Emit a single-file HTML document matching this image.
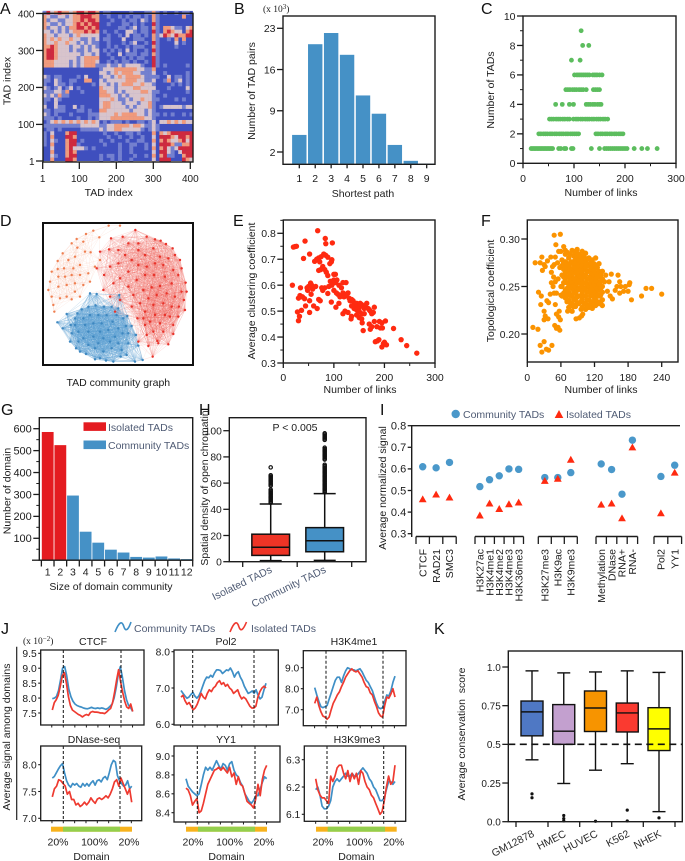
<!DOCTYPE html>
<html lang="en">
<head>
<meta charset="utf-8">
<title>TAD community figure</title>
<style>
html,body{margin:0;padding:0;background:#fff;width:685px;height:861px;overflow:hidden}
svg{display:block}
text{font-family:"Liberation Sans",sans-serif;font-size:10.5px;fill:#1c1c1c}
.letter{font-size:16px;fill:#111}
.slate{fill:#4f5b74}
.serif{font-family:"Liberation Serif",serif;font-size:9.5px}
</style>
</head>
<body>
<svg id="figure" xmlns="http://www.w3.org/2000/svg" width="685" height="861" viewBox="0 0 685 861">
<g id="panel-a"></g>
<g id="panel-b"></g>
<g id="panel-c"></g>
<g id="panel-d"></g>
<g id="panel-e"></g>
<g id="panel-f"></g>
<g id="panel-g"></g>
<g id="panel-h"></g>
<g id="panel-i"></g>
<g id="panel-j"></g>
<g id="panel-k"></g>

<text class="letter" x="0" y="14">A</text>
<text class="letter" x="234" y="14">B</text>
<text class="letter" x="481" y="14">C</text>
<text class="letter" x="0" y="226">D</text>
<text class="letter" x="233" y="226">E</text>
<text class="letter" x="481" y="226">F</text>
<text class="letter" x="1" y="415">G</text>
<text class="letter" x="199" y="415">H</text>
<text class="letter" x="380" y="415">I</text>
<text class="letter" x="1" y="634">J</text>
<text class="letter" x="434" y="634">K</text>

<text x="108.7" y="196" text-anchor="middle">TAD index</text>
<text transform="translate(10.5,81) rotate(-90)" text-anchor="middle">TAD index</text>

<text x="363" y="197" text-anchor="middle">Shortest path</text>
<text transform="translate(255,91) rotate(-90)" text-anchor="middle">Number of TAD pairs</text>
<text class="serif" x="263" y="12">(x 10<tspan dy="-3" font-size="7">3</tspan><tspan dy="3">)</tspan></text>

<text x="601" y="196" text-anchor="middle">Number of links</text>
<text transform="translate(494,90) rotate(-90)" text-anchor="middle">Number of TADs</text>

<text x="118.3" y="386" text-anchor="middle">TAD community graph</text>

<text x="360" y="393" text-anchor="middle">Number of links</text>
<text transform="translate(255,291) rotate(-90)" text-anchor="middle">Average clustering coefficient</text>

<text x="601" y="393" text-anchor="middle">Number of links</text>
<text transform="translate(494,291) rotate(-90)" text-anchor="middle">Topological coefficient</text>

<text x="111" y="590" text-anchor="middle">Size of domain community</text>
<text transform="translate(10.5,491) rotate(-90)" text-anchor="middle">Number of domain</text>
<text class="slate" x="108" y="431">Isolated TADs</text>
<text class="slate" x="108" y="449">Community TADs</text>

<text x="295" y="431" text-anchor="middle">P &lt; 0.005</text>
<text transform="translate(208,488) rotate(-90)" text-anchor="middle">Spatial density of open chromatin</text>

<text class="slate" x="463" y="418">Community TADs</text>
<text class="slate" x="566" y="418">Isolated TADs</text>
<text transform="translate(386,488) rotate(-90)" text-anchor="middle">Average normalized signal</text>

<path d="M115 632 C119 622,122 620,124 627 C126 633,129 628,131 622" fill="none" stroke="#3f8fc6" stroke-width="1.6"/>
<text class="slate" x="134" y="632">Community TADs</text>
<path d="M230 632 C234 622,237 620,239 627 C241 633,244 628,246.5 622" fill="none" stroke="#ee3a30" stroke-width="1.6"/>
<text class="slate" x="251" y="632">Isolated TADs</text>
<text class="serif" x="23" y="644">(x 10<tspan dy="-3" font-size="7">−2</tspan><tspan dy="3">)</tspan></text>
<line x1="16.7" y1="646.7" x2="16.7" y2="820" stroke="#222" stroke-width="1.2"/>
<text transform="translate(10,737) rotate(-90)" text-anchor="middle">Average signal among domains</text>

<text transform="translate(465,734) rotate(-90)" text-anchor="middle" xml:space="preserve">Average conservation  score</text>
</svg>

<script>
/* ===== Panel A data: 40x40 coarse heatmap levels, top row = index 400 ===== */
const heatRows = [
"142343323443443 01100000100011 310 10010110",
"321122123344433 00100101011010 310 00000300",
"312211223343443 00010010110210 310 00000000",
"321121223434344 00100011010100 410 00000000",
"312212133443434 00000110120110 310 33211023",
"221212123334343 01001002210110 410 34322034",
"322122212322222 00100102011010 312 43243344",
"323232232211212 01100020011100 310 01030300",
"322322322121211 00100010120010 410 00020100",
"334322212212121 00101001011100 310 00010000",
"344322212112122 01010102010010 410 00000000",
"344322222212212 00100201110110 310 00000000",
"344322222123333 00010010101100 410 00000000",
"333222212123332 00101011010010 410 00000000",
"333222212123331 11211212222100 410 10000010",
"000000000000000 12223333332211 300 00000000",
"000000000000000 22123233322111 200 10000010",
"210110000102000 12212323333211 110 02011010",
"110210011003300 21222223332211 200 13012010",
"100211010000010 22121233322322 100 00101010",
"210120120100000 32221222233222 200 01000020",
"111221300010000 33221212222332 110 00000010",
"212131100000000 33322121222222 100 10000000",
"110210000000000 22232112122322 110 00010100",
"100200000000000 23322212221223 100 00000000",
"200211002010000 23322221212223 101 22222122",
"110111000110100 33222222122212 100 00000000",
"210100010000111 22223233332212 110 10100101",
"111010000100101 22233333333322 100 00000000",
"012323232323232 01011101001101 202 23232322",
"111111111122222 11223333233211 210 00000000",
"011010000011111 21223322222101 210 00000000",
"102000344000000 01001001101000 303 23444444",
"103000443000000 00100100100100 204 44324434",
"102100344010000 10010001001100 303 43223424",
"103000344100000 01000100110010 204 44311334",
"002000342221010 00000100100010 303 42124444",
"003000343000000 00000100100000 204 42102444",
"002100344000000 10110100010010 303 41100344",
"003000443000000 10010100100000 204 44000432"
];
const heatLevelColors = ["#3f4fbe","#7480cf","#d8c4cc","#f09a7c","#cf2a3e"];
const aTickLabels = ["1","100","200","300","400"];

/* ===== Panel B data ===== */
const pathCategories = ["1","2","3","4","5","6","7","8","9"];
const pairCounts = [4.9,20.3,22.2,18.5,11.6,8.5,3.2,0.5,0.05];
const bYTickLabels = ["2","9","16","23"];

/* ===== Panel C data: links per TAD count (count = position + 1) ===== */
const linksAtCount = [
 [16,19,22,25,28,31,34,37,40,43,46,49,52,55,58,70,74,81,84,95,98,134,150,160,164,168,172,176,180,184,188,192,196,200,204,218,233,244,263],
 [31,35,40,44,48,53,57,62,66,71,75,79,84,88,93,97,101,105,109,143,147,152,156,161,165,170,174,179,183,188,192,196],
 [52,56,60,65,69,73,78,82,87,91,99,104,108,113,117,122,126,130,135,139,144,148,152,157,161,166],
 [64,77,91,99,124,128,132,137,141,146,150,153],
 [84,88,92,97,101,105,110,114,118,124,138,142,146,150],
 [101,106,110,114,118,122,126,130,137,141,145,150,155],
 [95,112],
 [117,129],
 [114]
];
const cXTickLabels = ["0","100","200","300"];
const cYTickLabels = ["0","2","4","6","8","10"];

/* ===== Panel D data: node layout coordinates per community ===== */
const redNodes = [[333,115],[368,110],[406,90],[385,130],[415,130],[440,110],[465,118],[482,122],[498,132],[518,145],[525,165],[540,180],[545,205],[535,225],[557,248],[560,275],[545,275],[552,300],[537,320],[555,330],[535,350],[520,375],[520,402],[505,433],[472,423],[445,438],[415,425],[435,375],[412,355],[395,320],[360,300],[330,290],[310,270],[312,225],[330,200],[327,148],[355,150],[375,165],[355,190],[395,180],[415,150],[435,165],[460,145],[480,170],[505,175],[490,195],[520,210],[465,190],[440,200],[415,195],[385,215],[360,235],[340,250],[385,260],[410,240],[435,225],[462,225],[495,230],[515,250],[480,258],[455,262],[430,270],[400,285],[420,310],[445,295],[470,285],[500,280],[525,290],[515,320],[490,310],[460,315],[435,335],[465,345],[495,345],[510,350],[480,370],[450,365],[430,355],[460,395],[490,395],[440,405],[475,430],[458,470],[300,155],[290,205],[345,335]];
const blueNodes = [[200,342],[172,367],[188,385],[212,375],[225,355],[245,328],[265,320],[287,316],[312,320],[335,320],[355,325],[350,345],[370,355],[382,348],[378,378],[395,378],[385,400],[368,400],[408,405],[415,437],[385,430],[365,450],[380,465],[362,470],[340,485],[318,482],[300,475],[285,478],[258,462],[240,455],[228,445],[210,425],[235,425],[215,400],[235,395],[225,375],[250,355],[270,345],[295,345],[320,345],[338,365],[355,385],[345,410],[355,430],[335,445],[310,455],[285,445],[265,435],[250,415],[265,395],[255,375],[280,370],[305,370],[325,390],[300,395],[280,410],[310,415],[330,425],[295,430],[405,485],[428,480],[232,340],[358,285],[290,282],[270,280]];
const orangeNodes = [[326,77],[360,77],[280,92],[258,102],[230,117],[298,112],[250,125],[215,130],[272,157],[255,155],[232,143],[188,160],[205,180],[225,170],[173,183],[240,195],[220,205],[192,205],[173,207],[155,215],[150,245],[145,270],[175,230],[195,230],[215,225],[240,225],[265,220],[270,245],[250,255],[225,250],[200,255],[175,260],[155,290],[180,295],[200,290],[215,298],[225,275],[160,315],[163,335],[240,290],[285,200],[300,180]];

/* ===== Panel E data ===== */
const ePoints = [[68,.81],[83,.78],[84,.76],[97,.763],[43,.77],[20,.747],[23,.749],[26,.75],[40,.703],[52,.72],[62,.692],[66,.7],[70,.705],[72,.69],[75,.71],[80,.72],[84,.715],[88,.708],[92,.683],[95,.69],[96,.698],[70,.657],[74,.66],[78,.672],[82,.66],[85,.65],[88,.637],[100,.642],[103,.642],[93,.615],[97,.605],[100,.62],[103,.61],[106,.62],[18,.6],[34,.59],[47,.59],[50,.595],[54,.608],[56,.6],[58,.585],[64,.595],[48,.58],[76,.59],[78,.58],[82,.59],[90,.595],[96,.6],[100,.58],[105,.57],[110,.6],[115,.59],[118,.61],[124,.61],[33,.56],[30,.55],[35,.555],[38,.555],[42,.548],[52,.54],[55,.565],[70,.545],[73,.54],[88,.568],[95,.535],[104,.515],[110,.53],[118,.49],[122,.5],[128,.495],[134,.47],[60,.52],[44,.52],[36,.503],[28,.497],[32,.48],[30,.463],[52,.495],[67,.51],[108,.565],[112,.555],[115,.56],[118,.57],[120,.555],[122,.56],[125,.565],[128,.57],[130,.55],[132,.54],[135,.545],[138,.54],[140,.53],[142,.525],[145,.53],[148,.52],[150,.515],[152,.53],[155,.525],[158,.52],[160,.51],[162,.52],[165,.53],[168,.51],[170,.505],[172,.5],[175,.49],[178,.495],[180,.515],[135,.52],[140,.51],[145,.505],[150,.5],[155,.49],[160,.49],[135,.48],[145,.485],[150,.475],[155,.47],[156,.455],[158,.425],[172,.43],[170,.45],[175,.44],[180,.46],[185,.44],[190,.46],[195,.455],[192,.435],[196,.435],[202,.462],[218,.433],[182,.382],[186,.385],[189,.39],[195,.362],[198,.375],[200,.38],[204,.37],[233,.39],[244,.367],[264,.338]];
const eXTickLabels = ["0","100","200","300"];
const eYTickLabels = ["0.3","0.4","0.5","0.6","0.7","0.8"];

/* ===== Panel F data ===== */
const fOuterPoints = [[48,.304],[59,.305],[51,.294],[65,.292],[68,.288],[56,.287],[60,.287],[14,.275],[26,.281],[23,.275],[30,.273],[36,.277],[42,.281],[50,.281],[27,.267],[32,.271],[48,.273],[45,.271],[54,.275],[58,.27],[43,.265],[47,.26],[50,.255],[46,.25],[43,.254],[55,.258],[60,.25],[20,.244],[25,.24],[24,.231],[35,.235],[38,.233],[41,.242],[48,.243],[52,.243],[60,.241],[30,.224],[32,.219],[30,.215],[37,.216],[50,.231],[52,.221],[57,.224],[56,.218],[59,.215],[49,.209],[52,.206],[55,.207],[58,.204],[10,.207],[19,.205],[30,.192],[23,.188],[38,.183],[34,.184],[44,.188],[26,.181],[150,.263],[162,.262],[165,.255],[160,.25],[157,.246],[148,.24],[152,.237],[165,.243],[167,.25],[180,.245],[182,.252],[183,.254],[186,.236],[204,.24],[212,.248],[222,.248],[240,.242],[172,.245],[175,.25],[140,.262],[138,.255],[143,.245],[146,.255],[72,.224],[76,.229],[85,.229],[87,.216],[93,.217],[97,.219],[99,.221],[96,.226]];
const fBlobColumns = [
 [62,.278,.272,.262,.25,.24],
 [65,.275,.268,.26,.254,.243],
 [68,.284,.276,.27,.264,.258,.246,.238],
 [71,.286,.274,.267,.26,.254,.248,.241,.234],
 [74,.28,.272,.266,.26,.252,.244,.236,.228],
 [77,.284,.275,.269,.263,.256,.249,.241,.233],
 [80,.288,.276,.268,.26,.254,.248,.24,.232,.224],
 [83,.282,.273,.265,.258,.251,.245,.237,.229],
 [86,.286,.278,.27,.264,.256,.25,.243,.236,.229],
 [89,.289,.281,.274,.267,.26,.253,.246,.239,.232],
 [92,.284,.278,.27,.262,.256,.248,.24,.232],
 [95,.282,.274,.267,.26,.253,.247,.24,.234],
 [98,.287,.279,.272,.264,.258,.25,.244,.236,.228],
 [101,.282,.275,.268,.26,.254,.247,.24,.232],
 [104,.285,.276,.27,.262,.254,.248,.24,.232,.226],
 [107,.279,.273,.266,.258,.251,.244,.236,.229],
 [110,.28,.272,.266,.258,.25,.244,.236,.228],
 [113,.275,.268,.261,.254,.247,.24,.232],
 [116,.278,.27,.264,.256,.25,.242,.234,.227],
 [119,.274,.267,.26,.253,.246,.239,.231],
 [122,.28,.272,.264,.258,.25,.244,.236,.23],
 [125,.27,.263,.255,.248,.241,.234],
 [128,.274,.266,.26,.252,.246,.24,.232],
 [131,.262,.255,.248,.241,.234],
 [134,.266,.258,.25,.244,.236,.23]
];
const fXTickLabels = ["0","60","120","180","240"];
const fYTickLabels = ["0.20","0.25","0.30"];

/* ===== Panel G data ===== */
const sizeCategories = ["1","2","3","4","5","6","7","8","9","10","11","12"];
const domainCounts = [585,525,295,130,80,48,35,15,12,17,8,5];
const isolatedBarCount = 2;
const gYTickLabels = ["100","200","300","400","500","600"];

/* ===== Panel H data ===== */
const hCategories = ["Isolated TADs","Community TADs"];
const hLow = [0.8,1];
const hQ1 = [4.8,7.6];
const hMedian = [11,16];
const hQ3 = [21,26];
const hHigh = [44,52];
const hOutliers = [
 [45,46,47,48,49,50,51,52,53,54,55,58,59,60,61,62,63,64,65,66,72],
 [53,54,55,56,57,58,59,60,61,62,63,64,65,66,67,68,69,70,71,72,73,74,78,79,80,81,82,83,84,85,86,87,93,94,95,96,97,98]
];
const hYTickLabels = ["0","20","40","60","80","100"];

/* ===== Panel I data ===== */
const iCategories = [["CTCF","RAD21","SMC3"],["H3K27ac","H3K4me1","H3K4me2","H3K4me3","H3K36me3"],["H3K27me3","H3K9ac","H3K9me3"],["Methylation","DNase","RNA+","RNA-"],["Pol2","YY1"]];
const iCommunity = [[.61,.605,.63],[.518,.55,.568,.6,.598],[.56,.56,.583],[.623,.597,.483,.733],[.565,.617]];
const iIsolated = [[.46,.482,.468],[.385,.44,.415,.437,.445],[.545,.555,.643],[.435,.44,.372,.7],[.395,.583]];
const iYTickLabels = ["0.3","0.4","0.5","0.6","0.7","0.8"];

/* ===== Panel J data ===== */
const ctcfCommunity = [7.98,8.0,8.05,8.25,8.6,9.0,9.05,8.75,8.3,8.05,7.9,7.8,7.75,7.72,7.7,7.67,7.65,7.64,7.66,7.69,7.66,7.65,7.67,7.65,7.67,7.65,7.62,7.66,7.72,7.8,8.0,8.35,8.8,9.05,8.7,8.25,7.95,7.75,7.68,7.55];
const ctcfIsolated = [7.6,7.85,7.95,8.1,8.4,8.75,8.85,8.5,8.05,7.75,7.6,7.55,7.5,7.45,7.42,7.37,7.42,7.45,7.42,7.52,7.55,7.53,7.53,7.52,7.5,7.5,7.48,7.53,7.6,7.65,7.85,8.2,8.6,8.95,8.55,8.2,7.9,7.7,7.65,7.8,7.55];
const pol2Community = [6.93,6.85,6.78,6.72,6.75,6.82,6.88,6.78,6.72,6.78,6.9,7.05,7.2,7.3,7.28,7.35,7.3,7.42,7.5,7.5,7.48,7.4,7.45,7.5,7.48,7.55,7.45,7.3,7.4,7.45,7.3,7.2,7.05,6.95,6.85,6.88,6.92,6.85,6.95,6.8,6.7,6.75,6.95,7.13];
const pol2Isolated = [6.75,6.8,6.65,6.55,6.6,6.5,6.4,6.45,6.55,6.7,6.85,6.75,6.7,6.85,6.95,6.9,7.0,7.05,7.15,7.2,7.1,7.15,7.05,7.1,7.0,6.95,6.85,6.9,6.95,6.8,6.7,6.75,6.7,6.6,6.5,6.45,6.45,6.5,6.75,6.9,7.0,7.05,7.0];
const h3k4me1Community = [8.05,7.7,7.4,7.15,7.1,7.15,7.2,7.5,7.8,8.1,8.4,8.55,8.55,8.3,8.6,8.85,9.0,8.95,8.9,8.9,8.85,8.9,8.95,8.8,8.6,8.4,8.3,8.1,7.9,7.6,7.3,7.1,7.05,7.1,7.4,7.7,7.65,7.9,8.3,8.6];
const h3k4me1Isolated = [7.3,7.6,7.2,6.9,6.7,6.65,6.55,6.65,7.0,7.3,7.5,7.7,7.85,8.1,8.3,8.55,8.7,8.85,8.95,8.85,8.8,8.85,8.7,8.55,8.3,8.1,8.05,7.8,7.7,7.4,7.15,6.85,6.7,6.65,7.2,7.6,7.55,7.75,8.0,7.6];
const dnaseCommunity = [7.75,7.78,7.85,7.92,7.98,8.02,7.85,7.7,7.62,7.58,7.65,7.62,7.65,7.6,7.58,7.65,7.6,7.65,7.6,7.66,7.7,7.62,7.7,7.72,7.68,7.75,7.78,7.72,7.85,8.0,8.08,8.05,7.8,7.7,7.65,7.6,7.62,7.7,7.55,7.6];
const dnaseIsolated = [7.4,7.55,7.6,7.72,7.7,7.65,7.6,7.45,7.5,7.35,7.35,7.25,7.28,7.22,7.25,7.3,7.25,7.3,7.38,7.32,7.28,7.36,7.38,7.35,7.38,7.42,7.38,7.45,7.55,7.68,7.72,7.6,7.75,7.65,7.55,7.45,7.55,7.3];
const yy1Community = [8.76,8.68,8.65,8.62,8.6,8.58,8.6,8.7,8.8,8.88,8.85,8.88,8.85,8.9,8.95,8.9,8.86,8.92,8.9,8.85,8.92,8.94,8.85,8.8,8.78,8.72,8.68,8.6,8.56,8.52,8.5,8.53,8.58,8.58,8.65,8.72,8.78,8.76];
const yy1Isolated = [8.66,8.64,8.58,8.48,8.52,8.55,8.4,8.42,8.5,8.6,8.7,8.75,8.8,8.85,8.86,8.88,8.85,8.88,8.85,8.82,8.88,8.78,8.82,8.7,8.78,8.7,8.68,8.6,8.52,8.5,8.48,8.45,8.55,8.7,8.58,8.75,8.85,8.9];
const h3k9me3Community = [6.19,6.2,6.17,6.13,6.12,6.12,6.13,6.15,6.2,6.22,6.23,6.22,6.23,6.24,6.25,6.24,6.24,6.25,6.24,6.24,6.25,6.26,6.27,6.26,6.25,6.23,6.22,6.2,6.19,6.17,6.15,6.15,6.16,6.19,6.22,6.22,6.21,6.22];
const h3k9me3Isolated = [6.23,6.19,6.17,6.16,6.16,6.15,6.14,6.24,6.22,6.24,6.27,6.28,6.28,6.25,6.23,6.26,6.22,6.25,6.23,6.25,6.21,6.26,6.25,6.22,6.2,6.19,6.17,6.16,6.14,6.12,6.1,6.11,6.15,6.2,6.24,6.21,6.22,6.28];
const ctcfTicks = ["7.5","8.0","8.5","9.0","9.5"];
const pol2Ticks = ["6.0","7.0","8.0"];
const h3k4me1Ticks = ["7.0","8.0","9.0"];
const dnaseTicks = ["7.0","7.5","8.0"];
const yy1Ticks = ["8.4","8.6","8.8","9.0"];
const h3k9me3Ticks = ["6.1","6.2","6.3"];
const domainTickLabels = ["20%","100%","20%"];

/* ===== Panel K data ===== */
const kCategories = ["GM12878","HMEC","HUVEC","K562","NHEK"];
const kLow = [.40,.247,.333,.375,.065];
const kQ1 = [.555,.50,.583,.58,.46];
const kMedian = [.71,.585,.735,.703,.60];
const kQ3 = [.78,.757,.845,.767,.737];
const kHigh = [.975,.962,.968,.975,.965];
const kOutliers = [[.18,.155],[.04,.02,.005],[.003],[.075,.005],[.025]];
const kYTickLabels = ["0.0","0.25","0.5","0.75","1.0"];
const kThreshold = 0.5;

/* ===== Helpers ===== */
const NS = "http://www.w3.org/2000/svg";
const INK = "#1c1c1c";
let tickFont = 10.5;
function mk(parent, tag, attrs, content) {
  const e = document.createElementNS(NS, tag);
  for (const k in attrs) e.setAttribute(k, attrs[k]);
  if (content !== undefined) e.textContent = content;
  parent.appendChild(e);
  return e;
}
function linear(d0, d1, r0, r1) {
  return v => r0 + (v - d0) * (r1 - r0) / (d1 - d0);
}
function yAxis(g, y, labels, xLeft, len, sw) {
  labels.forEach(lab => {
    const py = y(parseFloat(lab));
    const t = mk(g, "line", {x1: xLeft - len, x2: xLeft, y1: py, y2: py, stroke: INK, "stroke-width": sw || 1.3});
    
    
    const l = mk(g, "text", {x: xLeft - len - 1.5, y: py + 3.8, "text-anchor": "end", style: "font-size:" + tickFont + "px"}, lab);
    
    
  });
}
function xAxis(g, x, labels, yBottom, len, labelY) {
  labels.forEach(lab => {
    const px = x(parseFloat(lab));
    const t = mk(g, "line", {x1: px, x2: px, y1: yBottom, y2: yBottom + len, stroke: INK, "stroke-width": 1.3});
    
    
    const l = mk(g, "text", {x: px, y: labelY, "text-anchor": "middle", style: "font-size:" + tickFont + "px"}, lab);
    
    
  });
}
function minorY(g, y, from, to, step, xLeft, len) {
  const n = Math.round((to - from) / step);
  for (let i = 0; i <= n; i++) {
    const py = y(from + i * step);
    const t = mk(g, "line", {x1: xLeft - len, x2: xLeft, y1: py, y2: py, stroke: INK, "stroke-width": 1});
    
    
  }
}
function minorX(g, x, from, to, step, yBottom, len) {
  const n = Math.round((to - from) / step);
  for (let i = 0; i <= n; i++) {
    const px = x(from + i * step);
    const t = mk(g, "line", {x1: px, x2: px, y1: yBottom, y2: yBottom + len, stroke: INK, "stroke-width": 1});
    
    
  }
}
function frame(g, x0, y0, x1, y1, sw) {
  const r = mk(g, "rect", {x: x0, y: y0, width: x1 - x0, height: y1 - y0, fill: "none", stroke: "#1c1c1c", "stroke-width": sw || 1.4});
  
  
}
function dot(g, cx, cy, r, fill) {
  const c = mk(g, "circle", {cx: cx, cy: cy, r: r, fill: fill});
  
  
  return c;
}

/* ===== Panel A ===== */
(function () {
  const g = document.getElementById("panel-a");
  tickFont = 10;
  const x = linear(1, 400, 42.7, 190.3);
  const y = linear(1, 400, 161, 13.5);
  const rows = heatRows.map(r => r.replace(/ /g, ""));
  const n = rows.length;
  const bg = mk(g, "rect", {x: x(1), y: y(407), width: x(407) - x(1), height: y(1) - y(407), fill: heatLevelColors[0]});
  
  
  rows.forEach((row, r) => {
    [...row].forEach((ch, c) => {
      const lvl = Number(ch);
      if (lvl === 0) return;
      const i0 = c * 407 / n + 1, i1 = (c + 1) * 407 / n + 1;
      const j0 = 407 - r * 407 / n, j1 = 407 - (r + 1) * 407 / n;
      const cell = mk(g, "rect", {x: x(i0), y: y(j0), width: x(i1) - x(i0) + .2, height: y(j1) - y(j0) + .2, fill: heatLevelColors[lvl]});
      
      
    });
  });
  frame(g, 43, 13.3, 193, 162);
  xAxis(g, x, aTickLabels, 162, 7, 182);
  yAxis(g, y, aTickLabels, 43, 7);
})();

/* ===== Panel B ===== */
(function () {
  const g = document.getElementById("panel-b");
  tickFont = 10.5;
  const y = linear(2, 23, 152, 28.3);
  const x = linear(1, 9, 299.3, 426.7);
  pairCounts.forEach((v, i) => {
    const px = x(i + 1);
    const b = mk(g, "rect", {x: px - 7.2, y: y(v), width: 14.4, height: y(0) - y(v), fill: "#4591c6"});
    
    
  });
  frame(g, 283, 16, 435, 164.3);
  xAxis(g, x, pathCategories, 164.3, 4, 182);
  yAxis(g, y, bYTickLabels, 283, 6);
})();

/* ===== Panel C ===== */
(function () {
  const g = document.getElementById("panel-c");
  tickFont = 10.5;
  const x = linear(0, 300, 523, 676);
  const y = linear(0, 10, 163.3, 16);
  linksAtCount.forEach((links, i) => links.forEach(v => dot(g, x(v), y(i + 1), 2.4, "#5cbd5e")));
  frame(g, 523, 16, 676, 163.3);
  minorX(g, x, 50, 250, 100, 163.3, 3);
  minorY(g, y, 1, 9, 2, 523, 3);
  xAxis(g, x, cXTickLabels, 163.3, 5, 182);
  yAxis(g, y, cYTickLabels, 523, 6);
})();

/* ===== Panel D ===== */
(function () {
  const g = document.getElementById("panel-d");
  const sc = v => v / 3;
  const bgFrame = mk(g, "rect", {x: 43, y: 223, width: 150, height: 142, fill: "#fff"});
  
  
  const layer = (nodes, others, color, op, thr) => {
    for (let i = 0; i < nodes.length; i++) {
      for (let j = i + 1; j < nodes.length; j++) {
        const dx = nodes[i][0] - nodes[j][0], dy = nodes[i][1] - nodes[j][1];
        if (dx * dx + dy * dy < thr * thr) {
          const l = mk(g, "line", {x1: sc(nodes[i][0]), y1: sc(nodes[i][1] + 600), x2: sc(nodes[j][0]), y2: sc(nodes[j][1] + 600), stroke: color, "stroke-width": .35, "stroke-opacity": op});
          
          
        }
      }
      others.forEach(o => {
        const dx = nodes[i][0] - o[0], dy = nodes[i][1] - o[1];
        if (dx * dx + dy * dy < 3600) {
          const l = mk(g, "line", {x1: sc(nodes[i][0]), y1: sc(nodes[i][1] + 600), x2: sc(o[0]), y2: sc(o[1] + 600), stroke: color, "stroke-width": .35, "stroke-opacity": op * .5});
          
          
        }
      });
    }
  };
  layer(orangeNodes, [], "#f4a585", .3, 75);
  layer(redNodes, blueNodes, "#ee5a50", .34, 130);
  layer(blueNodes, [], "#5a9fd0", .5, 120);
  const nodesOf = (nodes, color, name) => nodes.forEach(n => {
    const c = mk(g, "circle", {cx: sc(n[0]), cy: sc(n[1] + 600), r: 1.2, fill: color});
    
    
  });
  nodesOf(orangeNodes, "#ef7f50", "orange-community-node");
  nodesOf(redNodes, "#e8332a", "red-community-node");
  nodesOf(blueNodes, "#3f88c0", "blue-community-node");
  const f = mk(g, "rect", {x: 43, y: 223, width: 150, height: 142, fill: "none", stroke: "#111", "stroke-width": 2});
  
  
})();

/* ===== Panel E ===== */
(function () {
  const g = document.getElementById("panel-e");
  tickFont = 10.5;
  const x = linear(0, 300, 283.3, 435);
  const y = linear(.3, .8, 363, 233.3);
  ePoints.forEach(p => dot(g, x(p[0]), y(p[1]), 2.7, "#ff2a10"));
  frame(g, 283.3, 220, 435, 363);
  minorX(g, x, 50, 250, 100, 363, 3);
  minorY(g, y, .35, .85, .1, 283.3, 3);
  xAxis(g, x, eXTickLabels, 363, 5, 381);
  yAxis(g, y, eYTickLabels, 283.3, 6);
})();

/* ===== Panel F ===== */
(function () {
  const g = document.getElementById("panel-f");
  tickFont = 10.3;
  const x = linear(0, 240, 527.3, 661.7);
  const y = linear(.2, .3, 334, 239);
  fOuterPoints.forEach(p => dot(g, x(p[0]), y(p[1]), 2.6, "#fb9300"));
  fBlobColumns.forEach(col => col.slice(1).forEach(v => dot(g, x(col[0]), y(v), 2.7, "#fb9300")));
  frame(g, 527.3, 220, 678, 362);
  xAxis(g, x, fXTickLabels, 362, 5, 381);
  yAxis(g, y, fYTickLabels, 527.3, 6);
})();

/* ===== Panel G ===== */
(function () {
  const g = document.getElementById("panel-g");
  tickFont = 11;
  const y = linear(0, 600, 560.2, 428.7);
  const cx = i => 47.7 + 12.64 * i;
  domainCounts.forEach((v, i) => {
    const b = mk(g, "rect", {x: cx(i) - 5.9, y: y(v), width: 11.8, height: y(0) - y(v), fill: i < isolatedBarCount ? "#e41b20" : "#4591c6"});
    
    
  });
  frame(g, 39.3, 417.7, 192.7, 560.2);
  minorY(g, y, 50, 550, 100, 39.3, 3);
  const zero = mk(g, "line", {x1: 32, x2: 39.3, y1: y(0), y2: y(0), stroke: INK, "stroke-width": 1.3});
  
  
  yAxis(g, y, gYTickLabels, 39.3, 6);
  sizeCategories.forEach((lab, i) => {
    const tk = mk(g, "line", {x1: cx(i) - 6.32, x2: cx(i) - 6.32, y1: 560.2, y2: 566.5, stroke: INK, "stroke-width": 1.3});
    
    
    const t = mk(g, "text", {x: cx(i), y: 575.5, "text-anchor": "middle", style: "font-size:10.5px"}, lab);
    
    
  });
  const lastTick = mk(g, "line", {x1: 192.7, x2: 192.7, y1: 560.2, y2: 566.5, stroke: INK, "stroke-width": 1.3});
  
  
  const k1 = mk(g, "rect", {x: 83.5, y: 422.3, width: 22.5, height: 8.6, fill: "#e41b20"});
  
  
  const k2 = mk(g, "rect", {x: 83.5, y: 440.5, width: 22.5, height: 8.6, fill: "#4591c6"});
  
  
})();

/* ===== Box plot shared ===== */
function boxMark(g, cx, w, capW, y, lo, q1, med, q3, hi, fill, sw) {
  const a = (x1, y1, x2, y2, name) => {
    const l = mk(g, "line", {x1: x1, y1: y1, x2: x2, y2: y2, stroke: "#111", "stroke-width": sw});
    
    
  };
  a(cx, y(hi), cx, y(lo), 'box-whisker');
  a(cx - capW / 2, y(hi), cx + capW / 2, y(hi), 'box-whisker-cap');
  a(cx - capW / 2, y(lo), cx + capW / 2, y(lo), 'box-whisker-cap');
  const r = mk(g, "rect", {x: cx - w / 2, y: y(q3), width: w, height: y(q1) - y(q3), fill: fill, stroke: "#111", "stroke-width": sw});
  
  
  a(cx - w / 2, y(med), cx + w / 2, y(med), 'box-median');
}

/* ===== Panel H ===== */
(function () {
  const g = document.getElementById("panel-h");
  tickFont = 10.3;
  const y = linear(0, 100, 561.7, 430.7);
  const cx = i => 270.7 + 54 * i;
  const fills = ["#ee3426", "#4591c6"];
  hCategories.forEach((c, i) => {
    boxMark(g, cx(i), 37.7, 22, y, hLow[i], hQ1[i], hMedian[i], hQ3[i], hHigh[i], fills[i], 1.5);
    hOutliers[i].forEach(v => {
      const o = mk(g, "circle", {cx: cx(i), cy: y(v), r: 1.7, fill: "none", stroke: "#111", "stroke-width": 1.2});
      
      
    });
    const t = mk(g, "text", {transform: "translate(" + (cx(i) + 2) + ",572) rotate(-26)", "text-anchor": "end", class: "slate"}, c);
    
    
  });
  frame(g, 229.3, 417.7, 366, 561.7);
  [0, 1, 2].forEach(i => {
    const px = 242.7 + 54.5 * i;
    const t = mk(g, "line", {x1: px, x2: px, y1: 561.7, y2: 567, stroke: INK, "stroke-width": 1.3});
    
    
  });
  yAxis(g, y, hYTickLabels, 229.3, 6);
})();

/* ===== Panel I ===== */
(function () {
  const g = document.getElementById("panel-i");
  tickFont = 11;
  const y = linear(.3, .8, 533.7, 425.7);
  const groupStart = [416, 475, 538.3, 596, 654];
  const groupStep = [13.4, 9.7, 13, 10.4, 13.8];
  const spine = mk(g, "path", {d: "M411.7 537 V425.7 H680", fill: "none", stroke: "#1c1c1c", "stroke-width": 1.4});
  
  
  yAxis(g, y, iYTickLabels, 411.7, 4);
  iCategories.forEach((names, gi) => {
    const x = k => groupStart[gi] + groupStep[gi] * k;
    const seg = mk(g, "line", {x1: x(0), x2: x(names.length), y1: 536.5, y2: 536.5, stroke: INK, "stroke-width": 1.4});
    
    
    for (let k = 0; k <= names.length; k++) {
      const t = mk(g, "line", {x1: x(k), x2: x(k), y1: 536.5, y2: 544, stroke: INK, "stroke-width": 1.3});
      
      
    }
    names.forEach((nm, k) => {
      const px = x(k + .5);
      const lab = mk(g, "text", {transform: "translate(" + (px + 3.7) + ",549) rotate(-90)", "text-anchor": "end"}, nm);
      
      
      const c = mk(g, "circle", {cx: px, cy: y(iCommunity[gi][k]), r: 3.7, fill: "#4a98ca"});
      
      
      const ty = y(iIsolated[gi][k]);
      const tri = mk(g, "polygon", {points: (px - 3.9) + "," + (ty + 3.1) + " " + (px + 3.9) + "," + (ty + 3.1) + " " + px + "," + (ty - 3.8), fill: "#ff2a10"});
      
      
    });
  });
  const lc = mk(g, "circle", {cx: 455.7, cy: 414, r: 4.2, fill: "#4a98ca"});
  
  
  const lt = mk(g, "polygon", {points: "554.7,418 563.3,418 559,410", fill: "#ff2a10"});
  
  
})();

/* ===== Panel J ===== */
(function () {
  const g = document.getElementById("panel-j");
  tickFont = 10.3;
  const panels = [
    {t: "CTCF", tx: 93, ty: 645, box: [40.7, 650, 144, 725], sx: [52.3, 132.7], dash: [63.3, 121], dom: [7.5, 9.5], rng: [713, 653.3], ticks: ctcfTicks, blue: ctcfCommunity, red: ctcfIsolated},
    {t: "Pol2", tx: 226, ty: 645, box: [174, 650, 278.3, 725], sx: [181, 266], dash: [192.7, 254], dom: [6, 8], rng: [724.3, 651.7], ticks: pol2Ticks, blue: pol2Community, red: pol2Isolated},
    {t: "H3K4me1", tx: 354, ty: 645, box: [303.3, 650.7, 406, 725.7], sx: [314.7, 395], dash: [326, 383], dom: [7, 9], rng: [709.7, 667.7], ticks: h3k4me1Ticks, blue: h3k4me1Community, red: h3k4me1Isolated},
    {t: "DNase-seq", tx: 94, ty: 743, box: [40.7, 746, 141.7, 820.7], sx: [52.3, 131.7], dash: [63.3, 120], dom: [7, 8], rng: [818.3, 764.7], ticks: dnaseTicks, blue: dnaseCommunity, red: dnaseIsolated},
    {t: "YY1", tx: 226, ty: 743, box: [174, 746, 280, 822], sx: [186, 266.7], dash: [197.3, 255], dom: [8.4, 9], rng: [812.7, 756], ticks: yy1Ticks, blue: yy1Community, red: yy1Isolated},
    {t: "H3K9me3", tx: 357, ty: 743, box: [304.3, 746, 405.7, 821.3], sx: [315.7, 395], dash: [327, 383.7], dom: [6.1, 6.3], rng: [814.3, 759.7], ticks: h3k9me3Ticks, blue: h3k9me3Community, red: h3k9me3Isolated}
  ];
  panels.forEach(p => {
    const y = linear(p.dom[0], p.dom[1], p.rng[0], p.rng[1]);
    const xs = n => i => p.sx[0] + (p.sx[1] - p.sx[0]) * i / (n - 1);
    const draw = (vals, color, name) => {
      const x = xs(vals.length);
      const d = vals.map((v, i) => (i ? "L" : "M") + x(i).toFixed(1) + " " + y(v).toFixed(1)).join(" ");
      const path = mk(g, "path", {d: d, fill: "none", stroke: color, "stroke-width": 1.7, "stroke-linejoin": "round"});
      
      
    };
    draw(p.blue, "#3f8fc6", 'community-line');
    draw(p.red, "#ee3a30", 'isolated-line');
    p.dash.forEach(dx => {
      const l = mk(g, "line", {x1: dx, x2: dx, y1: p.box[1], y2: p.box[3], stroke: "#111", "stroke-width": 1, "stroke-dasharray": "3 2"});
      
      
    });
    frame(g, p.box[0], p.box[1], p.box[2], p.box[3], 1.3);
    yAxis(g, y, p.ticks, p.box[0], 2.5, 1.1);
    const step = (p.dash[1] - p.dash[0]) / 5;
    for (let k = -1; k <= 6; k++) {
      const px = p.dash[0] + step * k;
      const t = mk(g, "line", {x1: px, x2: px, y1: p.box[3], y2: p.box[3] + 2.5, stroke: INK, "stroke-width": 1});
      
      
    }
    const ti = mk(g, "text", {x: p.tx, y: p.ty, "text-anchor": "middle"}, p.t);
    
    
  });
  const bars = [[51, 63, 120, 132], [186, 198, 255, 267], [316, 327.7, 385, 396.7]];
  bars.forEach(b => {
    const s1 = mk(g, "rect", {x: b[0], y: 826.7, width: b[3] - b[0], height: 5, fill: "#f7b21c"});
    
    
    const s2 = mk(g, "rect", {x: b[1], y: 826.7, width: b[2] - b[1], height: 5, fill: "#93cf4d"});
    
    
    [b[0] + 7, (b[1] + b[2]) / 2 + 3, b[3] - 3].forEach((px, i) => {
      const t = mk(g, "text", {x: px, y: 845.5, "text-anchor": "middle"}, domainTickLabels[i]);
      
      
    });
    const d = mk(g, "text", {x: (b[0] + b[3]) / 2, y: 860, "text-anchor": "middle"}, "Domain");
    
    
  });
})();

/* ===== Panel K ===== */
(function () {
  const g = document.getElementById("panel-k");
  tickFont = 10;
  const y = linear(0, 1, 821.7, 667);
  const cx = i => 532 + 31.75 * i;
  const fills = ["#4f78c4", "#c3a0cf", "#f79400", "#fa3a30", "#ffff00"];
  kCategories.forEach((c, i) => {
    boxMark(g, cx(i), 22, 13, y, kLow[i], kQ1[i], kMedian[i], kQ3[i], kHigh[i], fills[i], 1.4);
    kOutliers[i].forEach(v => {
      const o = mk(g, "circle", {cx: cx(i), cy: y(v), r: 1.6, fill: "#111"});
      
      
    });
    const t = mk(g, "text", {transform: "translate(" + (cx(i) + 3) + ",836) rotate(-27)", "text-anchor": "end", style: "fill:#2a2a2a"}, c);
    
    
  });
  const th = mk(g, "line", {x1: 508.3, x2: 682.3, y1: y(kThreshold), y2: y(kThreshold), stroke: "#111", "stroke-width": 1.6, "stroke-dasharray": "7 4.5"});
  
  
  frame(g, 508.3, 651, 682.3, 821.7);
  yAxis(g, y, kYTickLabels, 508.3, 6);
  [516, 548, 579.7, 611.7, 643.3, 675].forEach(px => {
    const t = mk(g, "line", {x1: px, x2: px, y1: 821.7, y2: 827, stroke: INK, "stroke-width": 1.3});
    
    
  });
})();
</script>
</body>
</html>
